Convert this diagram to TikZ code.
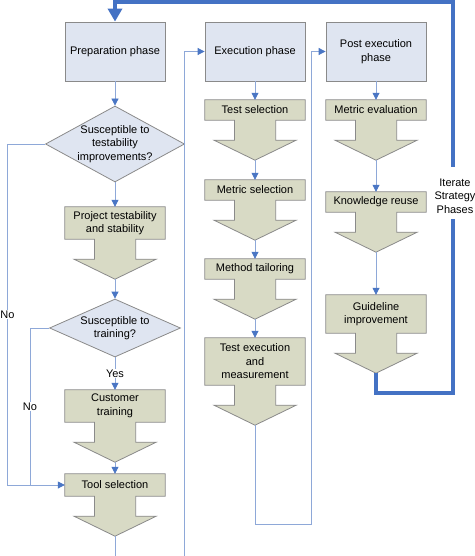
\documentclass[tikz,border=0pt]{standalone}
\usepackage{fontspec}
\setmainfont{Liberation Sans}
\usetikzlibrary{arrows.meta,calc,backgrounds,shapes.geometric}
\definecolor{boxblue}{HTML}{DFE5F1}
\definecolor{stepgrey}{HTML}{D8DAC5}
\definecolor{edgegrey}{HTML}{8A8A8A}
\definecolor{linkblue}{HTML}{8EA8D8}
\definecolor{tipblue}{HTML}{4A76C4}
\definecolor{loopblue}{HTML}{4472C4}

\begin{document}
\begin{tikzpicture}[x=1pt,y=-1pt]
	\tikzstyle{every node}=[font=\fontsize{11}{13.5}\selectfont]
	\tikzstyle{phase}=[draw=edgegrey, line width=0.8pt, fill=boxblue, minimum width=100pt, minimum height=59pt, align=center, inner sep=1pt]
	\tikzstyle{choice}=[diamond, draw=edgegrey, line width=0.8pt, fill=boxblue, inner sep=0pt]
	\tikzstyle{steptext}=[minimum width=100pt, align=center, inner sep=1pt]
	\tikzstyle{stepshape}=[draw=edgegrey, line width=0.8pt, fill=stepgrey]
	\tikzstyle{link}=[draw=linkblue, line width=0.8pt]
	\tikzstyle{linkarrow}=[link, -{Triangle[length=7pt,width=7pt,color=tipblue]}]
	\tikzstyle{loopline}=[draw=loopblue, line width=3.5pt]
	\tikzstyle{tag}=[fill=white, inner sep=1pt]

	\useasboundingbox (0,0) rectangle (474,556);

	%% phases
	\node[phase] (prep) at (115,51.5) {Preparation phase};
	\node[phase] (exec) at (255,51.5) {Execution phase};
	\node[phase] (post) at (376,51.5) {Post execution\\phase};

	%% preparation column
	\node[choice, minimum width=139pt, minimum height=76pt] (testq) at (115,144) {};
	\node[align=center] (testqtext) at (testq) {Susceptible to\\testability\\improvements?};
	\node[steptext, minimum height=32pt] (proj) at (115,223) {Project testability\\and stability};
	\node[choice, minimum width=131pt, minimum height=58pt] (trainq) at (115,328) {};
	\node[align=center] (trainqtext) at (trainq) {Susceptible to\\training?};
	\node[steptext, minimum height=32pt] (cust) at (115,406) {Customer\\training};
	\node[steptext, minimum height=22pt] (tool) at (115,485) {Tool selection};

	%% execution column
	\node[steptext, minimum height=20pt] (tsel) at (255,110) {Test selection};
	\node[steptext, minimum height=20pt] (msel) at (255,190) {Metric selection};
	\node[steptext, minimum height=20pt] (mtail) at (255,269) {Method tailoring};
	\node[steptext, minimum height=47pt] (texec) at (255,361.5) {Test execution\\and\\measurement};

	%% post execution column
	\node[steptext, minimum height=20pt] (meval) at (376,110) {Metric evaluation};
	\node[steptext, minimum height=20pt] (kreuse) at (376,202) {Knowledge reuse};
	\node[steptext, minimum height=38pt] (guide) at (376,314) {Guideline\\improvement};

	\node[align=center, inner sep=1pt] (iter) at (455,196) {Iterate\\Strategy\\Phases};

	\begin{scope}[on background layer]
	\foreach \s in {proj,cust,tool,tsel,msel,mtail,texec,meval,kreuse,guide}
		\filldraw[stepshape] (\s.north west) -- (\s.north east) -- (\s.south east) -- ++(-29.5,0) -- ++(0,20) -- ++(20.5,0) -- ($(\s.south)+(0,40)$) coordinate (\s-tip) -- ($(\s.south)+(-41,20)$) -- ($(\s.south)+(-20.5,20)$) -- ($(\s.south)+(-20.5,0)$) -- (\s.south west) -- cycle;
	\end{scope}

	\coordinate (leftrail) at (7.5,485);
	\coordinate (joinrail) at (30,485);
	\coordinate (toolout) at (115,560);
	\coordinate (execin) at (184,560);
	\coordinate (postrail) at (311,524);
	\coordinate (loopcorner) at (453,393);
	\coordinate (looplow) at (453,219);
	\coordinate (loophigh) at (453,167);
	\coordinate (looptop) at (453,2);

	\draw[linkarrow] (prep) -- (testq);
	\draw[linkarrow] (testq) -- (proj);
	\draw[linkarrow] (proj-tip) -- (trainq.north);
	\draw[linkarrow] (trainq) -- node[tag] {Yes} (cust);
	\draw[linkarrow] (cust-tip) -- (tool.north);
	\draw[link] (tool-tip) -- (toolout);
	\draw[linkarrow] (testq.west) -| node[tag, pos=0.75] {No} (leftrail) -- (tool.west);
	\draw[link] (trainq.west) -| node[tag, pos=0.75] {No} (joinrail);

	\draw[linkarrow] (execin) |- (exec.west);
	\draw[linkarrow] (exec) -- (tsel);
	\draw[linkarrow] (tsel-tip) -- (msel.north);
	\draw[linkarrow] (msel-tip) -- (mtail.north);
	\draw[linkarrow] (mtail-tip) -- (texec.north);
	\draw[linkarrow] (texec-tip) |- (postrail) |- (post.west);

	\draw[linkarrow] (post) -- (meval);
	\draw[linkarrow] (meval-tip) -- (kreuse.north);
	\draw[linkarrow] (kreuse-tip) -- (guide.north);

	\draw[loopline] (guide-tip) |- (loopcorner) -- (looplow);
	\draw[loopline, -{Triangle[length=13pt,width=14pt]}] (loophigh) -- (looptop) -| (prep.north);

\end{tikzpicture}
\end{document}
